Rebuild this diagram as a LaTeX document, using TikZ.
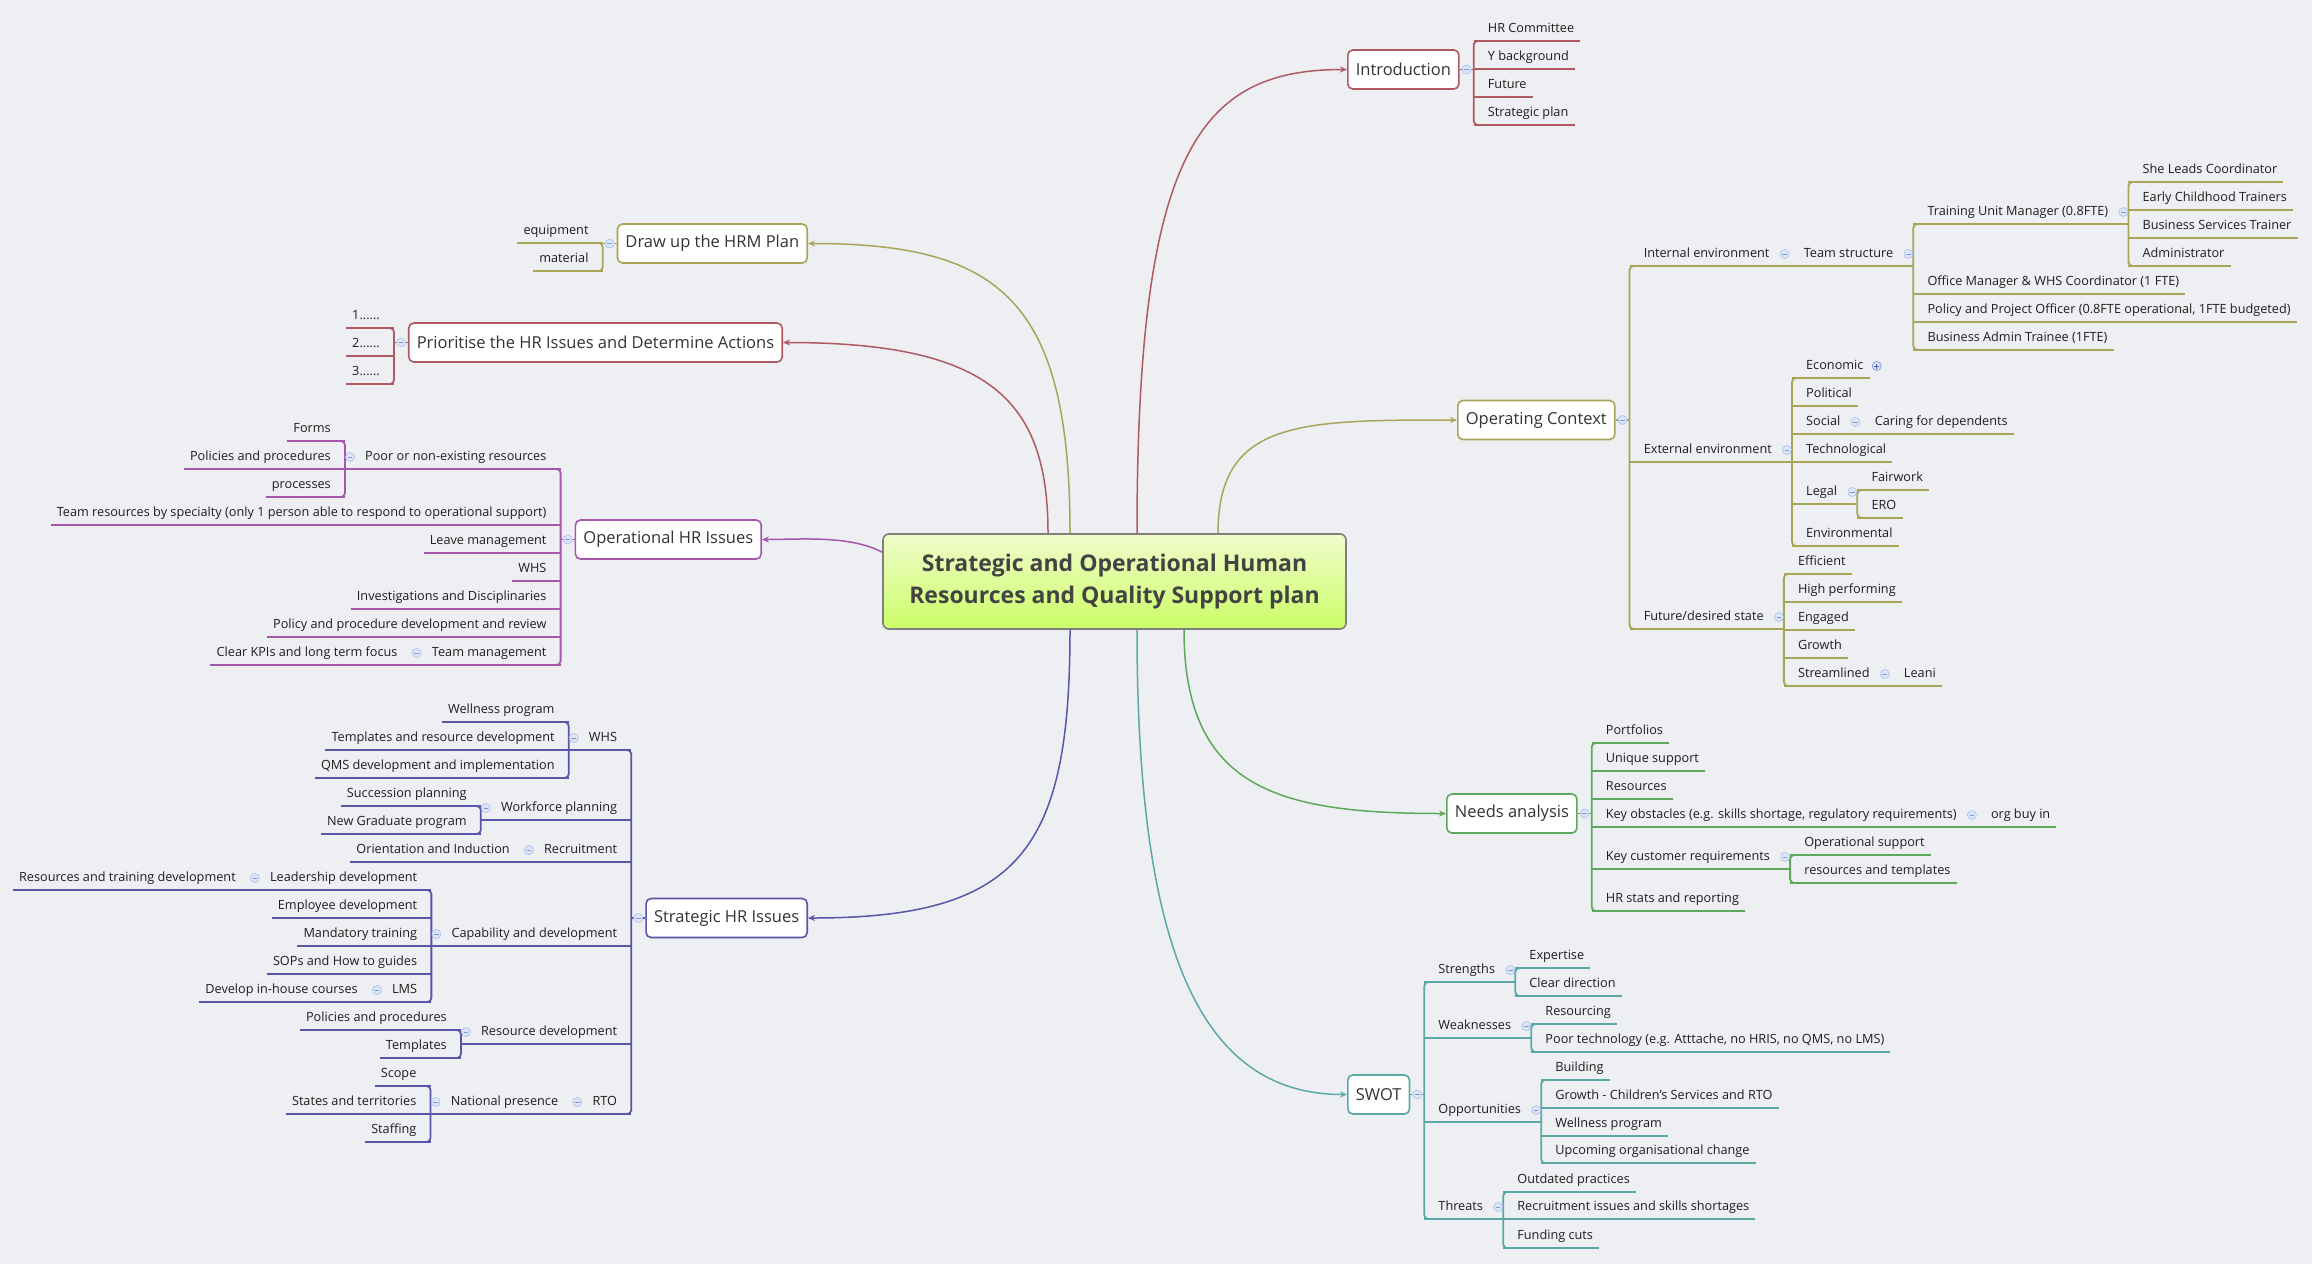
\documentclass[tikz,border=0pt]{standalone}
\usepackage{fontspec}
\setmainfont{Open Sans}
\usetikzlibrary{arrows.meta}
\definecolor{paper}{HTML}{EEEFF3}
\definecolor{redbr}{HTML}{AE5A60}
\definecolor{olivebr}{HTML}{A9A558}
\definecolor{purplebr}{HTML}{A756AD}
\definecolor{bluebr}{HTML}{5A55A9}
\definecolor{greenbr}{HTML}{5DA95A}
\definecolor{tealbr}{HTML}{5AA9A7}
\definecolor{inktext}{HTML}{1E1E1E}
\definecolor{boxtext}{HTML}{333333}
\definecolor{rootline}{HTML}{7F7F7F}
\definecolor{roottop}{HTML}{F0FCCB}
\definecolor{rootbottom}{HTML}{CBFD68}
\definecolor{roottext}{HTML}{434343}
\definecolor{btnfill}{HTML}{DCE6FA}
\definecolor{btnline}{HTML}{A9BFEA}
\definecolor{btnsign}{HTML}{7E9AD6}
\tikzset{
    >=Stealth,
    limb/.style={line width=1.8pt, rounded corners=4pt},
    rnode/.style 2 args={anchor=south west, inner xsep=0pt, inner ysep=4pt,
        text height=10pt, text depth=4pt, text=inktext,
        font=\fontsize{12.7}{15}\selectfont,
        execute at begin node=\hspace*{#1}, execute at end node=\hspace*{#2},
        append after command={(\tikzlastnode.south west) edge[limb] (\tikzlastnode.south east)}},
    lnode/.style 2 args={rnode={#1}{#2}, anchor=south east},
    rleaf/.style={rnode={14pt}{6pt}},
    rpar/.style={rnode={14pt}{20pt}},
    lleaf/.style={lnode={6pt}{14pt}},
    lpar/.style={lnode={20pt}{14pt}},
    topic/.style={draw, line width=1.6pt, rounded corners=5pt, fill=white,
        minimum height=39pt, inner xsep=8pt, text=boxtext,
        font=\fontsize{16.5}{19}\selectfont},
    root topic/.style={draw=rootline, line width=1.6pt, rounded corners=6pt,
        top color=roottop, bottom color=rootbottom, minimum width=463pt,
        minimum height=95pt, align=center, text=roottext,
        font=\fontsize{23}{32}\selectfont\bfseries},
    stem/.style={line width=1.5pt, -{Stealth[length=7pt,width=6pt]}},
    foldbtn/.style={circle, draw=btnline, fill=btnfill, line width=0.6pt,
        minimum size=9pt, inner sep=0pt,
        path picture={\draw[btnsign, line width=0.7pt]
            ([xshift=-2.3pt]path picture bounding box.center) --
            ([xshift=2.3pt]path picture bounding box.center);}},
    unfoldbtn/.style={circle, draw=btnsign, fill=btnfill, line width=0.7pt,
        minimum size=9pt, inner sep=0pt,
        path picture={\draw[bluebr, line width=0.8pt]
            ([xshift=-2.5pt]path picture bounding box.center) --
            ([xshift=2.5pt]path picture bounding box.center)
            ([yshift=-2.5pt]path picture bounding box.center) --
            ([yshift=2.5pt]path picture bounding box.center);}}
}

\begin{document}
\begin{tikzpicture}[x=1pt, y=-1pt]
\useasboundingbox (0,0) rectangle (2312,1264);
\fill[paper] (0,0) rectangle (2312,1264);

% central topic
\node[root topic] (root) at (1114.5,581.5) {Strategic and Operational Human\\Resources and Quality Support plan};

% ---------------- right side
\begin{scope}[redbr]
\node[topic, anchor=west] (intro) at (1347,69.5) {Introduction};
\coordinate (introS) at ([xshift=14pt]intro.east);
\node[rleaf] (hrcom) at (introS |- 0,41) {HR Committee};
\node[rleaf] (ybg) at (introS |- 0,69) {Y background};
\node[rleaf] (future) at (introS |- 0,97) {Future};
\node[rleaf] (stratplan) at (introS |- 0,125) {Strategic plan};
\draw[limb] (intro.east) -- (introS);
\draw[limb] ([xshift=6pt]hrcom.south west) -- (hrcom.south west) -- (stratplan.south west) -- ([xshift=6pt]stratplan.south west);
\node[foldbtn] (introF) at ([xshift=7pt]intro.east) {};
\end{scope}

\begin{scope}[olivebr]
\node[topic, anchor=west] (opctx) at (1457,420) {Operating Context};
\coordinate (opctxS) at ([xshift=14pt]opctx.east);
\node[rpar] (intenv) at (opctxS |- 0,266) {Internal environment};
\node[rpar] (teamst) at (intenv.south east) {Team structure};
\node[rpar] (tum) at (teamst.south east |- 0,224) {Training Unit Manager (0.8FTE)};
\node[rleaf] (sheleads) at (tum.south east |- 0,182) {She Leads Coordinator};
\node[rleaf] (ecetrain) at (tum.south east |- 0,210) {Early Childhood Trainers};
\node[rleaf] (bustrain) at (tum.south east |- 0,238) {Business Services Trainer};
\node[rleaf] (admin) at (tum.south east |- 0,266) {Administrator};
\node[rleaf] (offman) at (teamst.south east |- 0,294) {Office Manager \& WHS Coordinator (1 FTE)};
\node[rleaf] (ppo) at (teamst.south east |- 0,322) {Policy and Project Officer (0.8FTE operational, 1FTE budgeted)};
\node[rleaf] (bat) at (teamst.south east |- 0,350) {Business Admin Trainee (1FTE)};
\node[rpar] (extenv) at (opctxS |- 0,462) {External environment};
\node[rleaf] (econ) at (extenv.south east |- 0,378) {Economic};
\node[rleaf] (polit) at (extenv.south east |- 0,406) {Political};
\node[rpar] (social) at (extenv.south east |- 0,434) {Social};
\node[rleaf] (caring) at (social.south east) {Caring for dependents};
\node[rleaf] (techno) at (extenv.south east |- 0,462) {Technological};
\node[rpar] (legal) at (extenv.south east |- 0,504) {Legal};
\node[rleaf] (fairwork) at (legal.south east |- 0,490) {Fairwork};
\node[rleaf] (ero) at (legal.south east |- 0,518) {ERO};
\node[rleaf] (envir) at (extenv.south east |- 0,546) {Environmental};
\node[rpar] (futst) at (opctxS |- 0,629) {Future/desired state};
\node[rleaf] (effic) at (futst.south east |- 0,574) {Efficient};
\node[rleaf] (highperf) at (futst.south east |- 0,602) {High performing};
\node[rleaf] (engaged) at (futst.south east |- 0,630) {Engaged};
\node[rleaf] (growth) at (futst.south east |- 0,658) {Growth};
\node[rpar] (stream) at (futst.south east |- 0,686) {Streamlined};
\node[rleaf] (leani) at (stream.south east) {Leani};
\draw[limb] (opctx.east) -- (opctxS);
\draw[limb] ([xshift=6pt]intenv.south west) -- (intenv.south west) -- (futst.south west) -- ([xshift=6pt]futst.south west);
\draw[limb] ([xshift=6pt]tum.south west) -- (tum.south west) -- (bat.south west) -- ([xshift=6pt]bat.south west);
\draw[limb] ([xshift=6pt]sheleads.south west) -- (sheleads.south west) -- (admin.south west) -- ([xshift=6pt]admin.south west);
\draw[limb] ([xshift=6pt]econ.south west) -- (econ.south west) -- (envir.south west) -- ([xshift=6pt]envir.south west);
\draw[limb] ([xshift=6pt]fairwork.south west) -- (fairwork.south west) -- (ero.south west) -- ([xshift=6pt]ero.south west);
\draw[limb] ([xshift=6pt]effic.south west) -- (effic.south west) -- (stream.south west) -- ([xshift=6pt]stream.south west);
\node[foldbtn] (opctxF) at ([xshift=7pt]opctx.east) {};
\node[foldbtn] (intenvF) at ([xshift=-5pt,yshift=12pt]intenv.south east) {};
\node[foldbtn] (teamstF) at ([xshift=-5pt,yshift=12pt]teamst.south east) {};
\node[foldbtn] (tumF) at ([xshift=-5pt,yshift=12pt]tum.south east) {};
\node[foldbtn] (extenvF) at ([xshift=-5pt,yshift=12pt]extenv.south east) {};
\node[foldbtn] (socialF) at ([xshift=-5pt,yshift=12pt]social.south east) {};
\node[foldbtn] (legalF) at ([xshift=-5pt,yshift=12pt]legal.south east) {};
\node[foldbtn] (futstF) at ([xshift=-5pt,yshift=12pt]futst.south east) {};
\node[foldbtn] (streamF) at ([xshift=-5pt,yshift=12pt]stream.south east) {};
\node[unfoldbtn] (econF) at ([xshift=7pt,yshift=12pt]econ.south east) {};
\end{scope}

\begin{scope}[greenbr]
\node[topic, anchor=west] (needs) at (1446,813.5) {Needs analysis};
\coordinate (needsS) at ([xshift=14pt]needs.east);
\node[rleaf] (portf) at (needsS |- 0,743) {Portfolios};
\node[rleaf] (unique) at (needsS |- 0,771) {Unique support};
\node[rleaf] (resour) at (needsS |- 0,799) {Resources};
\node[rpar] (keyobs) at (needsS |- 0,827) {Key obstacles (e.g. skills shortage, regulatory requirements)};
\node[rleaf] (buyin) at (keyobs.south east) {org buy in};
\node[rpar] (keycust) at (needsS |- 0,869) {Key customer requirements};
\node[rleaf] (opsupp) at (keycust.south east |- 0,855) {Operational support};
\node[rleaf] (restemp) at (keycust.south east |- 0,883) {resources and templates};
\node[rleaf] (hrstats) at (needsS |- 0,911) {HR stats and reporting};
\draw[limb] (needs.east) -- (needsS);
\draw[limb] ([xshift=6pt]portf.south west) -- (portf.south west) -- (hrstats.south west) -- ([xshift=6pt]hrstats.south west);
\draw[limb] ([xshift=6pt]opsupp.south west) -- (opsupp.south west) -- (restemp.south west) -- ([xshift=6pt]restemp.south west);
\node[foldbtn] (needsF) at ([xshift=7pt]needs.east) {};
\node[foldbtn] (keyobsF) at ([xshift=-5pt,yshift=12pt]keyobs.south east) {};
\node[foldbtn] (keycustF) at ([xshift=-5pt,yshift=12pt]keycust.south east) {};
\end{scope}

\begin{scope}[tealbr]
\node[topic, anchor=west] (swot) at (1347,1094.5) {SWOT};
\coordinate (swotS) at ([xshift=14pt]swot.east);
\node[rpar] (strength) at (swotS |- 0,982) {Strengths};
\node[rleaf] (expert) at (strength.south east |- 0,968) {Expertise};
\node[rleaf] (cleardir) at (strength.south east |- 0,996) {Clear direction};
\node[rpar] (weak) at (swotS |- 0,1038) {Weaknesses};
\node[rleaf] (resourcing) at (weak.south east |- 0,1024) {Resourcing};
\node[rleaf] (poortech) at (weak.south east |- 0,1052) {Poor technology (e.g. Atttache, no HRIS, no QMS, no LMS)};
\node[rpar] (opport) at (swotS |- 0,1122) {Opportunities};
\node[rleaf] (building) at (opport.south east |- 0,1080) {Building};
\node[rleaf] (growthcs) at (opport.south east |- 0,1108) {Growth - Children's Services and RTO};
\node[rleaf] (wellness) at (opport.south east |- 0,1136) {Wellness program};
\node[rleaf] (upcoming) at (opport.south east |- 0,1163) {Upcoming organisational change};
\node[rpar] (threat) at (swotS |- 0,1219) {Threats};
\node[rleaf] (outdated) at (threat.south east |- 0,1192) {Outdated practices};
\node[rleaf] (recruit) at (threat.south east |- 0,1219) {Recruitment issues and skills shortages};
\node[rleaf] (funding) at (threat.south east |- 0,1248) {Funding cuts};
\draw[limb] (swot.east) -- (swotS);
\draw[limb] ([xshift=6pt]strength.south west) -- (strength.south west) -- (threat.south west) -- ([xshift=6pt]threat.south west);
\draw[limb] ([xshift=6pt]expert.south west) -- (expert.south west) -- (cleardir.south west) -- ([xshift=6pt]cleardir.south west);
\draw[limb] ([xshift=6pt]resourcing.south west) -- (resourcing.south west) -- (poortech.south west) -- ([xshift=6pt]poortech.south west);
\draw[limb] ([xshift=6pt]building.south west) -- (building.south west) -- (upcoming.south west) -- ([xshift=6pt]upcoming.south west);
\draw[limb] ([xshift=6pt]outdated.south west) -- (outdated.south west) -- (funding.south west) -- ([xshift=6pt]funding.south west);
\node[foldbtn] (swotF) at ([xshift=7pt]swot.east) {};
\node[foldbtn] (strengthF) at ([xshift=-5pt,yshift=12pt]strength.south east) {};
\node[foldbtn] (weakF) at ([xshift=-5pt,yshift=12pt]weak.south east) {};
\node[foldbtn] (opportF) at ([xshift=-5pt,yshift=12pt]opport.south east) {};
\node[foldbtn] (threatF) at ([xshift=-5pt,yshift=12pt]threat.south east) {};
\end{scope}

% ---------------- left side
\begin{scope}[olivebr]
\node[topic, anchor=east] (hrm) at (808,243.5) {Draw up the HRM Plan};
\coordinate (hrmS) at ([xshift=-14pt]hrm.west);
\node[lleaf] (equip) at (hrmS |- 0,243) {equipment};
\node[lleaf] (mater) at (hrmS |- 0,271) {material};
\draw[limb] (hrm.west) -- (hrmS);
\draw[limb] ([xshift=-6pt]equip.south east) -- (equip.south east) -- (mater.south east) -- ([xshift=-6pt]mater.south east);
\node[foldbtn] (hrmF) at ([xshift=-7pt]hrm.west) {};
\end{scope}

\begin{scope}[redbr]
\node[topic, anchor=east] (priorit) at (783,342.5) {Prioritise the HR Issues and Determine Actions};
\coordinate (prioritS) at ([xshift=-14pt]priorit.west);
\node[lleaf] (pone) at (prioritS |- 0,328) {1......};
\node[lleaf] (ptwo) at (prioritS |- 0,356) {2......};
\node[lleaf] (pthree) at (prioritS |- 0,384) {3......};
\draw[limb] (priorit.west) -- (prioritS);
\draw[limb] ([xshift=-6pt]pone.south east) -- (pone.south east) -- (pthree.south east) -- ([xshift=-6pt]pthree.south east);
\node[foldbtn] (prioritF) at ([xshift=-7pt]priorit.west) {};
\end{scope}

\begin{scope}[purplebr]
\node[topic, anchor=east] (ophr) at (762,539.5) {Operational HR Issues};
\coordinate (ophrS) at ([xshift=-14pt]ophr.west);
\node[lpar] (poorres) at (ophrS |- 0,469) {Poor or non-existing resources};
\node[lleaf] (forms) at (poorres.south west |- 0,441) {Forms};
\node[lleaf] (polproc) at (poorres.south west |- 0,469) {Policies and procedures};
\node[lleaf] (processes) at (poorres.south west |- 0,497) {processes};
\node[lleaf] (teamres) at (ophrS |- 0,525) {Team resources by specialty (only 1 person able to respond to operational support)};
\node[lleaf] (leave) at (ophrS |- 0,553) {Leave management};
\node[lleaf] (opwhs) at (ophrS |- 0,581) {WHS};
\node[lleaf] (investig) at (ophrS |- 0,609) {Investigations and Disciplinaries};
\node[lleaf] (polreview) at (ophrS |- 0,637) {Policy and procedure development and review};
\node[lpar] (teamman) at (ophrS |- 0,665) {Team management};
\node[lleaf] (kpis) at (teamman.south west) {Clear KPIs and long term focus};
\draw[limb] (ophr.west) -- (ophrS);
\draw[limb] ([xshift=-6pt]poorres.south east) -- (poorres.south east) -- (teamman.south east) -- ([xshift=-6pt]teamman.south east);
\draw[limb] ([xshift=-6pt]forms.south east) -- (forms.south east) -- (processes.south east) -- ([xshift=-6pt]processes.south east);
\node[foldbtn] (ophrF) at ([xshift=-7pt]ophr.west) {};
\node[foldbtn] (poorresF) at ([xshift=5pt,yshift=12pt]poorres.south west) {};
\node[foldbtn] (teammanF) at ([xshift=5pt,yshift=12pt]teamman.south west) {};
\end{scope}

\begin{scope}[bluebr]
\node[topic, anchor=east] (strhr) at (808,918) {Strategic HR Issues};
\coordinate (strhrS) at ([xshift=-14pt]strhr.west);
\node[lpar] (stwhs) at (strhrS |- 0,750) {WHS};
\node[lleaf] (wellprog) at (stwhs.south west |- 0,722) {Wellness program};
\node[lleaf] (templdev) at (stwhs.south west |- 0,750) {Templates and resource development};
\node[lleaf] (qms) at (stwhs.south west |- 0,778) {QMS development and implementation};
\node[lpar] (workforce) at (strhrS |- 0,820) {Workforce planning};
\node[lleaf] (succession) at (workforce.south west |- 0,806) {Succession planning};
\node[lleaf] (newgrad) at (workforce.south west |- 0,834) {New Graduate program};
\node[lpar] (recruitm) at (strhrS |- 0,862) {Recruitment};
\node[lleaf] (orient) at (recruitm.south west) {Orientation and Induction};
\node[lpar] (capab) at (strhrS |- 0,946) {Capability and development};
\node[lpar] (leader) at (capab.south west |- 0,890) {Leadership development};
\node[lleaf] (restrain) at (leader.south west) {Resources and training development};
\node[lleaf] (employee) at (capab.south west |- 0,918) {Employee development};
\node[lleaf] (mandat) at (capab.south west |- 0,946) {Mandatory training};
\node[lleaf] (sops) at (capab.south west |- 0,974) {SOPs and How to guides};
\node[lpar] (lms) at (capab.south west |- 0,1002) {LMS};
\node[lleaf] (inhouse) at (lms.south west) {Develop in-house courses};
\node[lpar] (resdev) at (strhrS |- 0,1044) {Resource development};
\node[lleaf] (polproc2) at (resdev.south west |- 0,1030) {Policies and procedures};
\node[lleaf] (templ) at (resdev.south west |- 0,1058) {Templates};
\node[lpar] (rto) at (strhrS |- 0,1114) {RTO};
\node[lpar] (natpres) at (rto.south west) {National presence};
\node[lleaf] (scopeN) at (natpres.south west |- 0,1086) {Scope};
\node[lleaf] (states) at (natpres.south west |- 0,1114) {States and territories};
\node[lleaf] (staffing) at (natpres.south west |- 0,1142) {Staffing};
\draw[limb] (strhr.west) -- (strhrS);
\draw[limb] ([xshift=-6pt]stwhs.south east) -- (stwhs.south east) -- (rto.south east) -- ([xshift=-6pt]rto.south east);
\draw[limb] ([xshift=-6pt]wellprog.south east) -- (wellprog.south east) -- (qms.south east) -- ([xshift=-6pt]qms.south east);
\draw[limb] ([xshift=-6pt]succession.south east) -- (succession.south east) -- (newgrad.south east) -- ([xshift=-6pt]newgrad.south east);
\draw[limb] ([xshift=-6pt]leader.south east) -- (leader.south east) -- (lms.south east) -- ([xshift=-6pt]lms.south east);
\draw[limb] ([xshift=-6pt]polproc2.south east) -- (polproc2.south east) -- (templ.south east) -- ([xshift=-6pt]templ.south east);
\draw[limb] ([xshift=-6pt]scopeN.south east) -- (scopeN.south east) -- (staffing.south east) -- ([xshift=-6pt]staffing.south east);
\node[foldbtn] (strhrF) at ([xshift=-7pt]strhr.west) {};
\node[foldbtn] (stwhsF) at ([xshift=5pt,yshift=12pt]stwhs.south west) {};
\node[foldbtn] (workforceF) at ([xshift=5pt,yshift=12pt]workforce.south west) {};
\node[foldbtn] (recruitmF) at ([xshift=5pt,yshift=12pt]recruitm.south west) {};
\node[foldbtn] (capabF) at ([xshift=5pt,yshift=12pt]capab.south west) {};
\node[foldbtn] (leaderF) at ([xshift=5pt,yshift=12pt]leader.south west) {};
\node[foldbtn] (lmsF) at ([xshift=5pt,yshift=12pt]lms.south west) {};
\node[foldbtn] (resdevF) at ([xshift=5pt,yshift=12pt]resdev.south west) {};
\node[foldbtn] (rtoF) at ([xshift=5pt,yshift=12pt]rto.south west) {};
\node[foldbtn] (natpresF) at ([xshift=5pt,yshift=12pt]natpres.south west) {};
\end{scope}

% main branches out of the central topic
\draw[stem, redbr] ([xshift=22.5pt]root.north) .. controls (1137,150) and (1200,69.5) .. (intro.west);
\draw[stem, olivebr] ([xshift=103.5pt]root.north) .. controls (1218,420) and (1300,420) .. (opctx.west);
\draw[stem, greenbr] ([xshift=69.5pt]root.south) .. controls (1184,790) and (1280,813.5) .. (needs.west);
\draw[stem, tealbr] ([xshift=22.5pt]root.south) .. controls (1137,950) and (1200,1094.5) .. (swot.west);
\draw[stem, olivebr] ([xshift=-44.5pt]root.north) .. controls (1070,300) and (1000,243.5) .. (hrm.east);
\draw[stem, redbr] ([xshift=-66.5pt]root.north) .. controls (1048,400) and (990,342.5) .. (priorit.east);
\draw[stem, purplebr] ([yshift=-19pt]root.north west) .. controls (850,535) and (800,539.5) .. (ophr.east);
\draw[stem, bluebr] ([xshift=-44.5pt]root.south) .. controls (1070,850) and (1020,918) .. (strhr.east);

\end{tikzpicture}
\end{document}
